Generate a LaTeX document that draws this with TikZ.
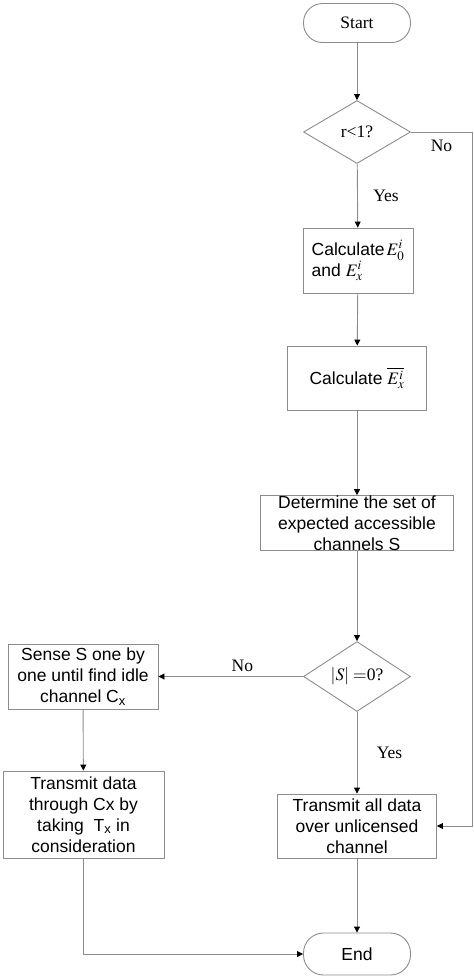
\documentclass[tikz,border=0pt]{standalone}
\usepackage{mathptmx}
\usepackage[no-math]{fontspec}
\setmainfont{Liberation Serif}
\setsansfont{Liberation Sans}
\usetikzlibrary{shapes, arrows.meta, positioning}
\definecolor{edgegray}{gray}{0.55}

\begin{document}
\begin{tikzpicture}[x=1pt, y=-1pt,
            line/.style={draw=edgegray, line width=0.9pt},
            arr/.style={line, -{Triangle[color=black, fill=black, length=6pt, width=6pt]}},
            box/.style={draw=edgegray, line width=0.9pt, rectangle, inner sep=0pt, align=center,
                font=\sffamily\fontsize{17.5}{21}\selectfont},
            term/.style={draw=edgegray, line width=0.9pt, rectangle, rounded corners=19pt,
                minimum width=107pt, inner sep=0pt},
            decision/.style={draw=edgegray, line width=0.9pt, diamond, minimum width=107pt,
                minimum height=63pt, inner sep=0pt, font=\fontsize{17.5}{21}\selectfont},
            lbl/.style={font=\fontsize{17.5}{21}\selectfont}]
            \useasboundingbox (0,0) rectangle (474,978);

            \node[term, minimum height=39pt, font=\fontsize{17.5}{21}\selectfont] (start) at (357,23) {Start};
            \node[decision] (rcheck) at (357,132) {r<1?};
            \node[box, minimum width=110pt, minimum height=65pt, align=left] (calcE) at (358,260.5)
                {Calculate$\,E_0^i$\\and $E_x^i$};
            \node[box, minimum width=139pt, minimum height=64pt] (calcbar) at (357,378)
                {Calculate $\overline{E_x^i}$};
            \node[box, minimum width=193pt, minimum height=54pt] (determine) at (357,523)
                {Determine the set of\\expected accessible\\channels S};
            \node[decision] (scheck) at (357,676.5) {$\left|S\right|=$0?};
            \node[box, minimum width=150pt, minimum height=65pt] (sense) at (83,676.5)
                {Sense S one by\\one until find idle\\channel C\textsubscript{x}};
            \node[box, minimum width=161pt, minimum height=87pt] (txdata) at (83.5,814.5)
                {Transmit data\\through Cx by\\taking~ T\textsubscript{x} in\\consideration};
            \node[box, minimum width=159pt, minimum height=64pt] (txall) at (357,826)
                {Transmit all data\\over unlicensed\\channel};
            \node[term, minimum height=42pt, rounded corners=20pt, font=\sffamily\fontsize{17.5}{21}\selectfont] (end) at (357,954) {End};
            \coordinate (bypass) at (472,132);

            \draw[arr] (start) -- (rcheck);
            \draw[arr] (rcheck) -- node[lbl, right=12pt] {Yes} (calcE);
            \draw[arr] (rcheck.east) -- node[lbl, below=4pt] {No} (bypass) |- (txall.east);
            \draw[arr] (calcE) -- (calcbar);
            \draw[arr] (calcbar) -- (determine);
            \draw[arr] (determine) -- (scheck);
            \draw[arr] (scheck) -- node[lbl, pos=0.42, above=1pt] {No} (sense);
            \draw[arr] (scheck) -- node[lbl, right=16pt] {Yes} (txall);
            \draw[arr] (sense) -- (txdata);
            \draw[arr] (txall) -- (end);
            \draw[arr] (txdata.south) |- (end.west);
        \end{tikzpicture}
\end{document}
